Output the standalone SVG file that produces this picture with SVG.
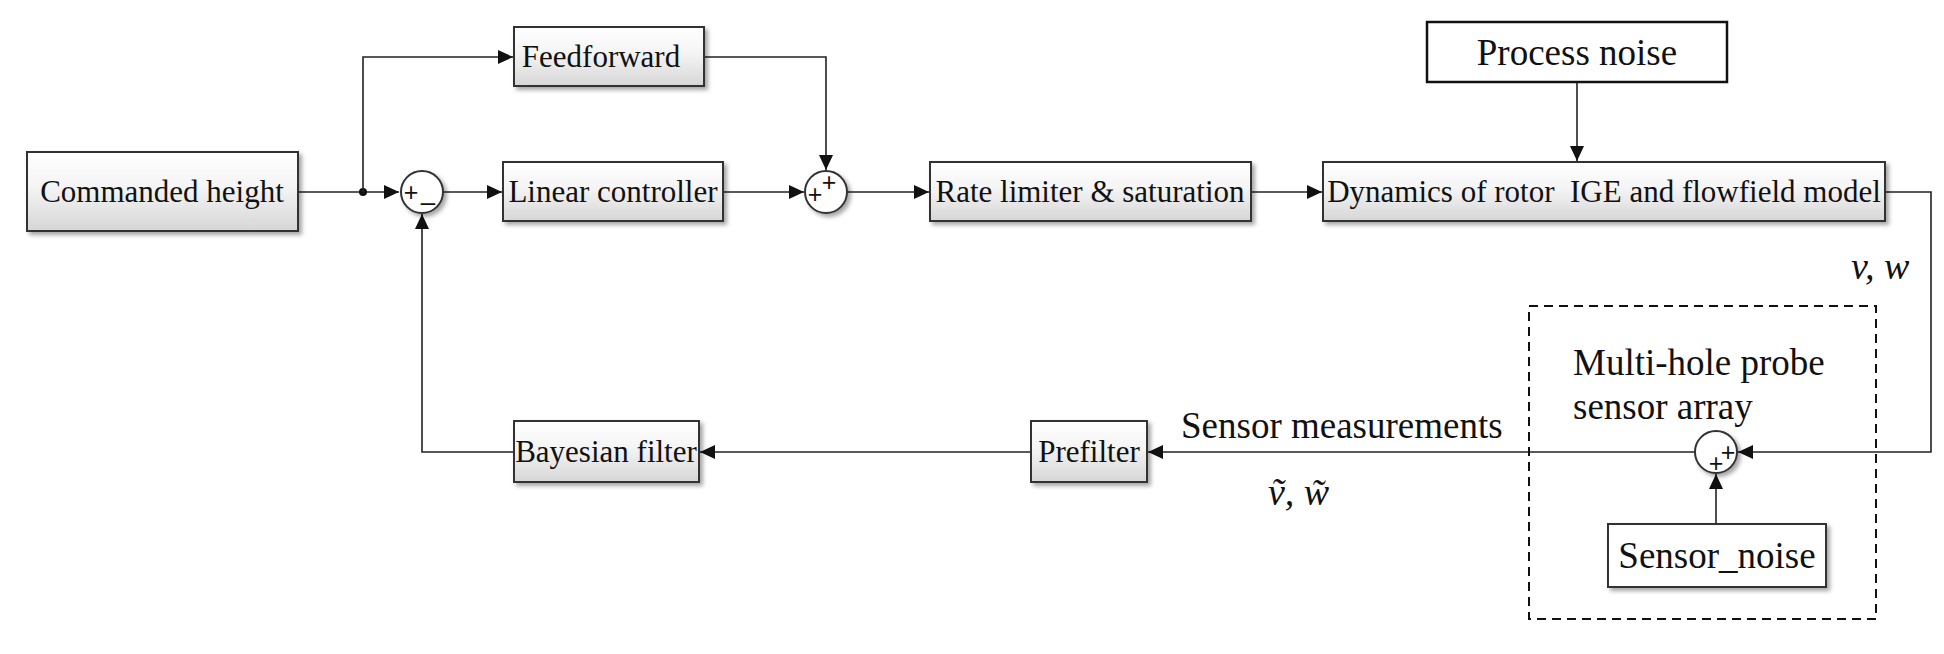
<svg xmlns="http://www.w3.org/2000/svg" width="1944" height="654" viewBox="0 0 1944 654">
<style>
.blk{fill:url(#g);stroke:#333;stroke-width:2;filter:url(#sh)}
.wb{fill:#fff;stroke:#333;stroke-width:2;filter:url(#sh)}
.lbl{font-size:31px;fill:#111;text-anchor:middle}
.big{font-size:37px;fill:#111}
.sum{fill:#fff;stroke:#333;stroke-width:2;filter:url(#sh)}
.sg{font-size:25px;fill:#111;text-anchor:middle}
.ln{fill:none;stroke:#222;stroke-width:1.6}
.math{font-style:italic;font-size:38px;fill:#111}
</style>
<defs>
<linearGradient id="g" x1="0" y1="0" x2="0" y2="1">
<stop offset="0" stop-color="#ffffff"/>
<stop offset="0.45" stop-color="#f4f4f4"/>
<stop offset="1" stop-color="#d6d6d6"/>
</linearGradient>
<filter id="sh" x="-10%" y="-20%" width="125%" height="150%">
<feDropShadow dx="3" dy="3" stdDeviation="2" flood-color="#000" flood-opacity="0.35"/>
</filter>
<marker id="ar" viewBox="0 0 15 14" refX="15" refY="7" markerWidth="15" markerHeight="14" markerUnits="userSpaceOnUse" orient="auto">
<path d="M0,0 L15,7 L0,14 Z" fill="#111"/>
</marker>
</defs>

<g id="connectors">
<path class="ln" d="M298,192 L399,192" marker-end="url(#ar)"/>
<circle cx="363" cy="192" r="4" fill="#111"/>
<path class="ln" d="M363,192 L363,57 L513,57" marker-end="url(#ar)"/>
<path class="ln" d="M443,192 L502,192" marker-end="url(#ar)"/>
<path class="ln" d="M723,192 L804,192" marker-end="url(#ar)"/>
<path class="ln" d="M704,57 L826,57 L826,170" marker-end="url(#ar)"/>
<path class="ln" d="M847,192 L929,192" marker-end="url(#ar)"/>
<path class="ln" d="M1251,192 L1322,192" marker-end="url(#ar)"/>
<path class="ln" d="M1577,82 L1577,161" marker-end="url(#ar)"/>
<path class="ln" d="M1885,192 L1931,192 L1931,452 L1738,452" marker-end="url(#ar)"/>
<path class="ln" d="M1716,524 L1716,474" marker-end="url(#ar)"/>
<path class="ln" d="M1695,452 L1148,452" marker-end="url(#ar)"/>
<path class="ln" d="M1031,452 L700,452" marker-end="url(#ar)"/>
<path class="ln" d="M514,452 L422,452 L422,214" marker-end="url(#ar)"/>
</g>

<g font-family="'Liberation Serif', 'Times New Roman', Tinos, 'DejaVu Serif', serif">
<g id="commanded-height">
<rect class="blk" x="27" y="152" width="271" height="79"/>
<text class="lbl" x="162" y="202">Commanded height</text>
</g>
<g id="feedforward">
<rect class="blk" x="514" y="27" width="190" height="59"/>
<text class="lbl" x="601" y="67">Feedforward</text>
</g>
<g id="linear-controller">
<rect class="blk" x="503" y="162" width="220" height="59"/>
<text class="lbl" x="613" y="202">Linear controller</text>
</g>
<g id="rate-limiter">
<rect class="blk" x="930" y="162" width="321" height="59"/>
<text class="lbl" x="1090" y="202">Rate limiter &amp; saturation</text>
</g>
<g id="dynamics">
<rect class="blk" x="1323" y="162" width="562" height="59"/>
<text class="lbl" x="1604" y="202" xml:space="preserve">Dynamics of rotor  IGE and flowfield model</text>
</g>
<g id="process-noise">
<rect x="1427" y="22" width="300" height="60" fill="#fff" stroke="#111" stroke-width="2.5"/>
<text class="big" x="1577" y="65" text-anchor="middle">Process noise</text>
</g>
<text class="math" x="1851" y="279">v, w</text>
<g id="sensor-array">
<rect x="1529" y="306" width="347" height="313" fill="none" stroke="#111" stroke-width="2" stroke-dasharray="9,6"/>
<text class="big" x="1573" y="375">Multi-hole probe</text>
<text class="big" x="1573" y="419">sensor array</text>
</g>
<g id="sensor-noise">
<rect class="wb" x="1608" y="524" width="218" height="63"/>
<text class="big" x="1717" y="568" text-anchor="middle">Sensor_noise</text>
</g>
<text class="big" x="1181" y="438">Sensor measurements</text>
<text class="math" x="1268" y="505">ṽ, w̃</text>
<g id="prefilter">
<rect class="blk" x="1031" y="421" width="116" height="61"/>
<text class="lbl" x="1089" y="462">Prefilter</text>
</g>
<g id="bayesian-filter">
<rect class="blk" x="514" y="421" width="185" height="61"/>
<text class="lbl" x="606" y="462">Bayesian filter</text>
</g>
</g>

<g font-family="'Liberation Sans', Arial, sans-serif">
<g id="sum1">
<circle class="sum" cx="422" cy="192" r="21"/>
<text class="sg" x="411" y="201">+</text>
<text class="sg" x="428" y="200">_</text>
</g>
<g id="sum2">
<circle class="sum" cx="826" cy="192" r="21"/>
<text class="sg" x="815" y="203">+</text>
<text class="sg" x="829" y="191">+</text>
</g>
<g id="sum3">
<circle class="sum" cx="1716" cy="452" r="21"/>
<text class="sg" x="1728" y="461">+</text>
<text class="sg" x="1716" y="472">+</text>
</g>
</g>
</svg>
